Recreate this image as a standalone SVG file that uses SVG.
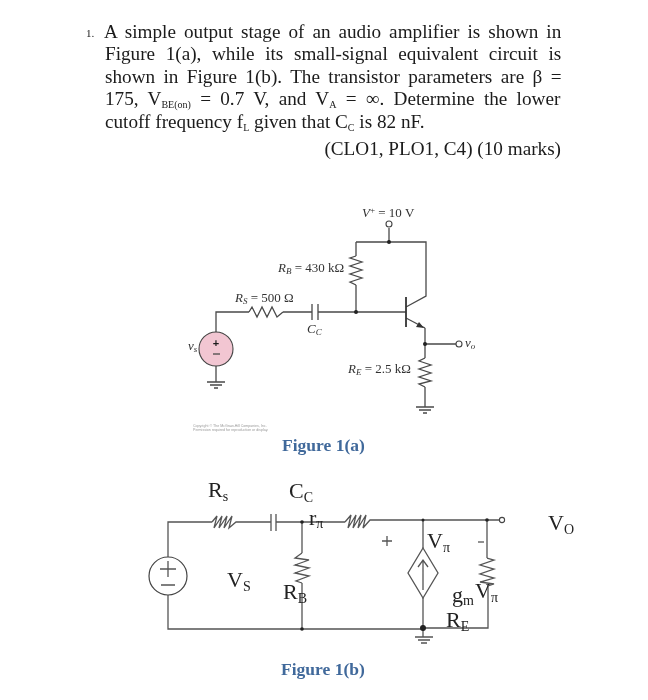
<svg xmlns="http://www.w3.org/2000/svg" width="648" height="700" viewBox="0 0 648 700">
<defs><filter id="soft" x="0" y="0" width="100%" height="100%"><feGaussianBlur stdDeviation="0.35"/></filter></defs>
<style>
text{font-family:"Liberation Serif","Times New Roman",serif;fill:#1a1a1a}
.q{font-size:19.2px}
.w{fill:none;stroke:#4a4a4a;stroke-width:1.3;stroke-linejoin:miter}
.b{fill:none;stroke:#555;stroke-width:1.3}
.d{fill:#222;stroke:none}
.o{fill:#fff;stroke:#444;stroke-width:1.1}
.a{font-size:13px;fill:#333}
.i{font-style:italic}
.f{font-size:17.5px;font-weight:bold;fill:#41699b}
.c{font-size:22px;fill:#222}
.s{font-size:14px}
.e{font-size:3.6px;fill:#999;font-family:"Liberation Sans",sans-serif}
</style>
<g filter="url(#soft)">
<g id="question">
<text x="86" y="37" style="font-size:11px">1.</text>
<text class="q" x="104" y="38" word-spacing="3.2">A simple output stage of an audio amplifier is shown in</text>
<text class="q" x="105" y="60" word-spacing="5.8">Figure 1(a), while its small-signal equivalent circuit is</text>
<text class="q" x="105" y="83" word-spacing="3.6">shown in Figure 1(b). The transistor parameters are β =</text>
<text class="q" x="105" y="105" word-spacing="4.5">175, V<tspan font-size="10" dy="3">BE(on)</tspan><tspan dy="-3"> = 0.7 V, and V</tspan><tspan font-size="10" dy="3">A</tspan><tspan dy="-3"> = ∞. Determine the lower</tspan></text>
<text class="q" x="105" y="128">cutoff frequency f<tspan font-size="10" dy="3">L</tspan><tspan dy="-3"> given that C</tspan><tspan font-size="10" dy="3">C</tspan><tspan dy="-3"> is 82 nF.</tspan></text>
<text class="q" x="561" y="155" text-anchor="end">(CLO1, PLO1, C4) (10 marks)</text>
</g>
<g id="connectors-a">
<path class="w" d="M389 228V242M356 242H426V296L406 307M356 242V256M356 285V312M216 332V312H249M283 312H312M318 312H406M425 328V344M425 344H456M425 344V358M425 387V407M216 366V382"/>
<path class="w" d="M406 318L425 328"/>
</g>
<g id="q1-transistor">
<path d="M406 297V327" fill="none" stroke="#333" stroke-width="1.8"/>
<path d="M424 328L416 327L419 322Z" fill="#333"/>
</g>
<g id="rb-a"><path class="w" d="M356 256L350 258L362 262L350 266L362 270L350 274L362 278L350 282L356 285"/>
<text class="a" x="278" y="272"><tspan class="i">R<tspan font-size="9" dy="2">B</tspan></tspan><tspan dy="-2"> = 430 kΩ</tspan></text></g>
<g id="rs-a"><path class="w" d="M249 312L252 307L257 317L262 307L267 317L272 307L277 317L283 312"/>
<text class="a" x="235" y="302"><tspan class="i">R<tspan font-size="9" dy="2">S</tspan></tspan><tspan dy="-2"> = 500 Ω</tspan></text></g>
<g id="cc-a"><path class="w" d="M312 304V320M318 304V320"/><text class="a i" x="307" y="333">C<tspan font-size="9" dy="2">C</tspan></text></g>
<g id="vs-a"><circle cx="216" cy="349" r="17" fill="#f2c6d2" stroke="#444" stroke-width="1.1"/><text x="216" y="347" text-anchor="middle" style="font-size:11px;font-family:'Liberation Sans',sans-serif;font-weight:bold">+</text><path class="w" d="M213 354H220"/>
<text class="a i" x="188" y="350">v<tspan font-size="9" dy="2">s</tspan></text></g>
<g id="gnd-a1"><path class="w" d="M207 382H225M210 385H222M214 388H218"/></g>
<g id="re-a"><path class="w" d="M425 358L419 361L431 365L419 369L431 373L419 377L431 381L419 384L425 387"/>
<text class="a" x="348" y="373"><tspan class="i">R<tspan font-size="9" dy="2">E</tspan></tspan><tspan dy="-2"> = 2.5 kΩ</tspan></text></g>
<g id="gnd-a2"><path class="w" d="M416 407H434M419 410H431M423 413H427"/></g>
<g id="vplus"><circle class="o" cx="389" cy="224" r="3"/><text class="a" x="362" y="217"><tspan class="i">V</tspan><tspan font-size="9" dy="-4">+</tspan><tspan dy="4"> = 10 V</tspan></text></g>
<g id="dots-a"><circle class="d" cx="389" cy="242" r="2"/><circle class="d" cx="356" cy="312" r="2"/><circle class="d" cx="425" cy="344" r="2"/></g>
<g id="vo-a"><circle class="o" cx="459" cy="344" r="3"/><text class="a i" x="465" y="347">v<tspan font-size="9" dy="2">o</tspan></text></g>
<g id="copyright"><text class="e" x="193" y="427">Copyright © The McGraw-Hill Companies, Inc.</text><text class="e" x="193" y="431">Permission required for reproduction or display.</text></g>
<text id="fig-a" class="f" x="282" y="451">Figure 1(a)</text>

<g id="connectors-b">
<path class="b" d="M168 557V522H212M242 522H271M276 522H345M374 520H487M487 520H499M168 595V629H423M302 522V553M302 583V629M423 520V548M423 598V628M423 628H488V585M487 520V558M423 628V637"/>
</g>
<g id="vs-b"><circle cx="168" cy="576" r="19" fill="#fff" stroke="#444" stroke-width="1.2"/><path class="b" d="M160 569H176M168 561V577M161 585H175"/><text class="c" x="227" y="587">V<tspan class="s" dy="4">S</tspan></text></g>
<g id="rs-b"><path class="b" d="M212 522L217 516L214 528L222 516L219 528L227 516L224 528L232 516L229 528L236 522H242"/><text class="c" x="208" y="497">R<tspan class="s" dy="4">s</tspan></text></g>
<g id="cc-b"><path class="b" d="M271 514V531M276 514V531"/><text class="c" x="289" y="498">C<tspan class="s" dy="4">C</tspan></text></g>
<g id="rpi-b"><path class="b" d="M345 522L351 515L348 528L356 515L353 528L361 515L358 528L366 515L363 528L370 520H374"/><text class="c" x="309" y="525">r<tspan class="s" dy="3">π</tspan></text></g>
<g id="rb-b"><path class="b" d="M302 553L295 558L309 560L295 565L309 568L295 573L309 576L296 581L302 583"/><text class="c" x="283" y="599">R<tspan class="s" dy="4">B</tspan></text></g>
<g id="dots-b"><circle class="d" cx="302" cy="522" r="1.8"/><circle class="d" cx="302" cy="629" r="1.8"/><circle class="d" cx="423" cy="520" r="1.5"/><circle class="d" cx="487" cy="520" r="1.8"/><circle class="d" cx="423" cy="628" r="3"/></g>
<g id="plus-b"><path class="b" d="M382 541H392M387 536V546"/></g>
<g id="gs-b"><path class="b" d="M423 548L438 573L423 598L408 573ZM423 590V561M418 567L423 560L428 567"/><text class="c" x="427" y="548">V<tspan class="s" dy="4">π</tspan></text><text class="c" x="452" y="602">g<tspan class="s" dy="3">m</tspan></text><text class="c" x="475" y="598">V<tspan class="s" dy="4">π</tspan></text></g>
<g id="re-b"><path class="b" d="M487 558L494 560L480 565L494 569L480 574L494 578L480 582L494 584L488 586"/><path class="b" d="M478 542H484" stroke-width="2"/><text class="c" x="446" y="627">R<tspan class="s" dy="4">E</tspan></text></g>
<g id="gnd-b"><path class="b" d="M415 637H433M418 640H430M421 643H427"/></g>
<g id="vo-b"><circle class="o" cx="502" cy="520" r="2.6"/><text class="c" x="548" y="530">V<tspan class="s" dy="4">O</tspan></text></g>
<text id="fig-b" class="f" x="281" y="675">Figure 1(b)</text>
</g>
</svg>
